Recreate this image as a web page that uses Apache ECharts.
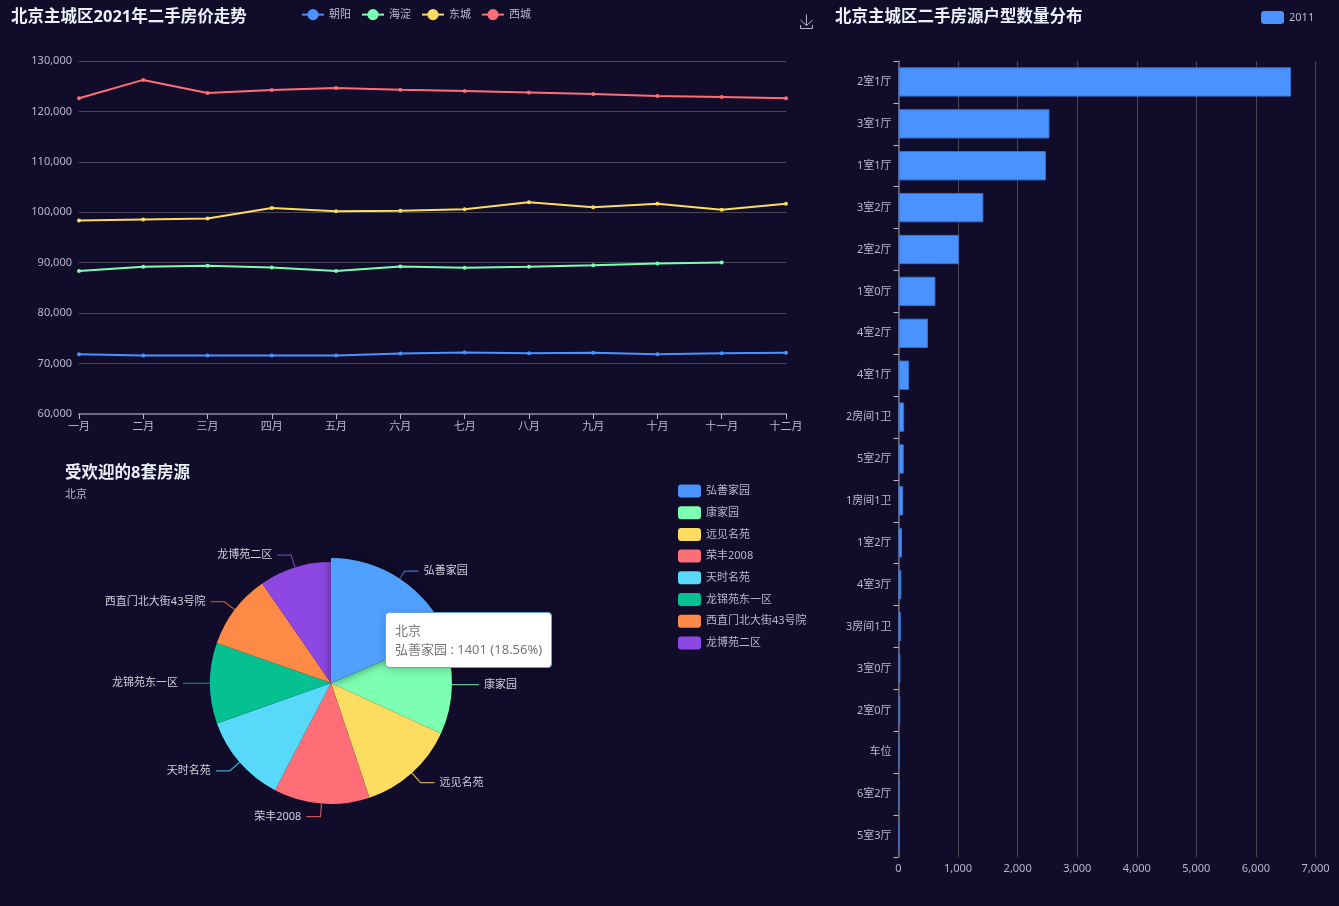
<!DOCTYPE html>
<html>
<head>
<meta charset="utf-8">
<title>北京二手房</title>
<style>
  html, body { margin: 0; padding: 0; background: #100c2a; }
  #main { width: 1339px; height: 906px; }
</style>
<script src="https://cdn.jsdelivr.net/npm/echarts@6/dist/echarts.min.js"></script>
</head>
<body>
<div id="main"></div>
<script>
const FONT = '"Noto Sans", "Noto Sans CJK SC", sans-serif';
const TEXT = '#B9B8CE';
const SPLIT = '#484753';
const AXIS = '#6E6B80';

const months = ['一月', '二月', '三月', '四月', '五月', '六月', '七月', '八月', '九月', '十月', '十一月', '十二月'];
const districts = ['朝阳', '海淀', '东城', '西城'];
const chaoyang = [71850, 71600, 71600, 71600, 71600, 72000, 72200, 72050, 72150, 71850, 72050, 72150];
const haidian = [88350, 89200, 89400, 89050, 88350, 89250, 89000, 89200, 89500, 89850, 90050, null];
const dongcheng = [98350, 98550, 98750, 100850, 100200, 100300, 100600, 102000, 101000, 101700, 100500, 101700];
const xicheng = [122600, 126250, 123650, 124250, 124650, 124300, 124050, 123750, 123450, 123050, 122850, 122600];

const estateNames = ['弘善家园', '康家园', '远见名苑', '荣丰2008', '天时名苑', '龙锦苑东一区', '西直门北大街43号院', '龙博苑二区'];
const estateCounts = [1401, 1003, 982, 967, 900, 813, 757, 726];

const roomTypes = ['2室1厅', '3室1厅', '1室1厅', '3室2厅', '2室2厅', '1室0厅', '4室2厅', '4室1厅', '2房间1卫', '5室2厅',
  '1房间1卫', '1室2厅', '4室3厅', '3房间1卫', '3室0厅', '2室0厅', '车位', '6室2厅', '5室3厅'];
const roomCounts = [6590, 2535, 2475, 1425, 1015, 620, 495, 178, 95, 88, 78, 58, 48, 40, 32, 30, 26, 24, 20];

const colors = ['#4992ff', '#7cffb2', '#fddd60', '#ff6e76', '#58d9f9', '#05c091', '#ff8a45', '#8d48e3'];

function lineSeries(name, data) {
  return {
    name: name,
    type: 'line',
    xAxisIndex: 0,
    yAxisIndex: 0,
    data: data,
    symbol: 'circle',
    symbolSize: 4,
    lineStyle: { width: 2 }
  };
}

const chart = echarts.init(document.getElementById('main'), null, { renderer: 'canvas' });

chart.setOption({
  backgroundColor: '#100c2a',
  animation: false,
  color: colors,
  textStyle: { fontFamily: FONT },
  title: [
    { text: '北京主城区2021年二手房价走势', left: 11, top: 9, padding: 0, textStyle: { color: '#EEF1FA', fontSize: 16.5, fontWeight: 'bold', fontFamily: FONT } },
    { text: '北京主城区二手房源户型数量分布', left: 835, top: 9, padding: 0, textStyle: { color: '#EEF1FA', fontSize: 16.5, fontWeight: 'bold', fontFamily: FONT } },
    {
      text: '受欢迎的8套房源', subtext: '北京', left: 65, top: 465, padding: 0, itemGap: 8,
      textStyle: { color: '#EEF1FA', fontSize: 16.5, fontWeight: 'bold', fontFamily: FONT },
      subtextStyle: { color: TEXT, fontSize: 11, fontFamily: FONT }
    }
  ],
  legend: [
    {
      data: districts, left: 301, top: 9, padding: 0, itemWidth: 22, itemHeight: 14, itemGap: 10,
      textStyle: { color: TEXT, fontSize: 11, fontFamily: FONT }
    },
    {
      data: ['2011'], left: 1261, top: 11, padding: 0, itemWidth: 23, itemHeight: 13, itemGap: 10,
      itemStyle: { borderWidth: 0 },
      textStyle: { color: TEXT, fontSize: 11, fontFamily: FONT }
    },
    {
      data: estateNames, orient: 'vertical', left: 678, top: 484.5, padding: 0, itemWidth: 23, itemHeight: 13, itemGap: 8.7,
      textStyle: { color: TEXT, fontSize: 11, fontFamily: FONT }
    }
  ],
  toolbox: {
    left: 798, top: 12, padding: 0, itemSize: 14,
    iconStyle: { borderColor: TEXT, color: 'none' },
    feature: { saveAsImage: { title: '' } }
  },
  tooltip: {
    trigger: 'item',
    triggerOn: 'none',
    alwaysShowContent: true,
    position: [385, 612],
    formatter: '{a}<br/>{b} : {c} ({d}%)',
    backgroundColor: '#fff',
    borderColor: '#6a9fe8',
    borderWidth: 1,
    padding: [8, 9],
    textStyle: { color: '#777', fontSize: 13, lineHeight: 19, fontFamily: FONT }
  },
  grid: [
    { left: 79, top: 61, width: 707, height: 353, outerBoundsMode: 'none' },
    { left: 898.5, top: 61, width: 417, height: 796, outerBoundsMode: 'none' }
  ],
  xAxis: [
    {
      gridIndex: 0, type: 'category', data: months, boundaryGap: false,
      axisLine: { show: true, lineStyle: { color: AXIS, width: 2 } },
      axisTick: { show: true, alignWithLabel: true, lineStyle: { color: TEXT } },
      axisLabel: { color: TEXT, fontSize: 11, margin: 7, interval: 0 },
      splitLine: { show: false }
    },
    {
      gridIndex: 1, type: 'value', min: 0, max: 7000, interval: 1000,
      axisLine: { show: false },
      axisTick: { show: false },
      axisLabel: { color: TEXT, fontSize: 11, margin: 6 },
      splitLine: { show: true, lineStyle: { color: SPLIT } }
    }
  ],
  yAxis: [
    {
      gridIndex: 0, type: 'value', min: 60000, max: 130000, interval: 10000,
      axisLine: { show: false },
      axisTick: { show: false },
      axisLabel: { color: TEXT, fontSize: 11, margin: 7 },
      splitLine: { show: true, lineStyle: { color: SPLIT } }
    },
    {
      gridIndex: 1, type: 'category', data: roomTypes, inverse: true,
      axisLine: { show: true, lineStyle: { color: AXIS, width: 1.5 } },
      axisTick: { show: true, lineStyle: { color: TEXT } },
      axisLabel: { color: TEXT, fontSize: 11, margin: 7, interval: 0, padding: [0, 0, 2, 0] },
      splitLine: { show: false }
    }
  ],
  series: [
    lineSeries('朝阳', chaoyang),
    lineSeries('海淀', haidian),
    lineSeries('东城', dongcheng),
    lineSeries('西城', xicheng),
    {
      name: '2011',
      type: 'bar',
      xAxisIndex: 1,
      yAxisIndex: 1,
      data: roomCounts,
      barCategoryGap: '30%',
      itemStyle: { color: colors[0], borderColor: '#3570cc', borderWidth: 1 },
      silent: true
    },
    {
      name: '北京',
      type: 'pie',
      center: [331, 683],
      radius: 121,
      data: estateNames.map((n, i) => ({ name: n, value: estateCounts[i] })),
      label: { color: '#D0D0DC', fontSize: 11 },
      labelLine: { length: 13, length2: 14, lineStyle: { width: 1.2, opacity: 0.75 } },
      emphasis: {
        scale: true,
        scaleSize: 4,
        itemStyle: { shadowBlur: 10, shadowOffsetX: 0, shadowColor: 'rgba(0, 0, 0, 0.5)' }
      }
    }
  ]
});

// the reference was captured hovering the first slice
chart.dispatchAction({ type: 'highlight', seriesIndex: 5, dataIndex: 0 });
chart.dispatchAction({ type: 'showTip', seriesIndex: 5, dataIndex: 0 });
</script>
</body>
</html>
